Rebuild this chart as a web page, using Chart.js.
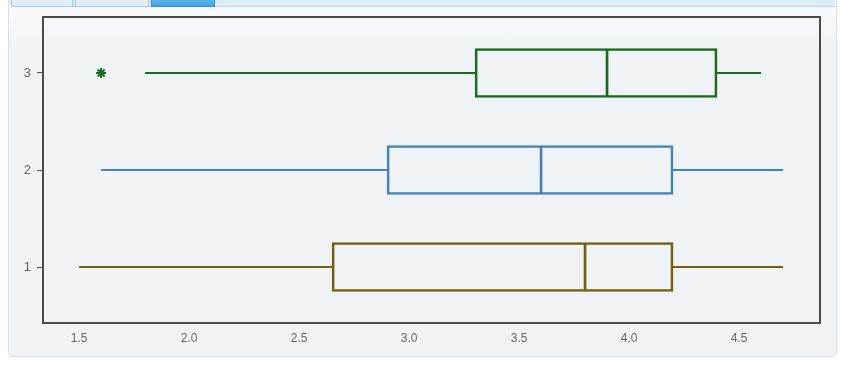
<!DOCTYPE html>
<html>
<head>
<meta charset="utf-8">
<title>Box plot</title>
<script src="https://cdn.jsdelivr.net/npm/chart.js@4.4.1/dist/chart.umd.min.js"></script>
<style>
    body {
        margin: 0;
        width: 850px;
        height: 370px;
        overflow: hidden;
        position: relative;
        background: #ffffff;
    }
    #panel {
        position: absolute;
        left: 8px;
        top: -10px;
        width: 827px;
        height: 365px;
        border: 1px solid #d9dee3;
        border-radius: 5px;
        background: linear-gradient(#f9fafb 0px, #f8f9fb 22px, #eff3f6 60px, #eff3f6 100%);
    }
    #tabstrip {
        position: absolute;
        left: 10px;
        top: 0;
        width: 825px;
        height: 6px;
        background: #dcebf8;
        border-bottom: 1px solid #b9d5ef;
        border-bottom-left-radius: 4px;
    }
    .tab {
        position: absolute;
        top: 0;
        height: 6px;
        background: #e3eef9;
        border: 1px solid #a9c9e9;
        border-top: none;
    }
    .tab.active {
        background: linear-gradient(#5cb1ec, #47a3e4);
        border-color: #2f8fe0;
    }
    #chartBox {
        position: absolute;
        left: 0;
        top: 0;
        width: 850px;
        height: 370px;
    }
</style>
</head>
<body>
<div id="panel"></div>
<div id="tabstrip"></div>
<div class="tab" style="left:11px; width:60px; border-bottom-left-radius:4px;"></div>
<div class="tab" style="left:75px; width:72px;"></div>
<div class="tab active" style="left:151px; width:62px;"></div>
<div id="chartBox"><canvas id="boxChart"></canvas></div>

<script>
// Box plot values
const categories = [1, 2, 3];
const whiskerLow = [1.5, 1.6, 1.8];
const lowerQuartile = [2.65, 2.9, 3.3];
const medians = [3.8, 3.6, 3.9];
const upperQuartile = [4.2, 4.2, 4.4];
const whiskerHigh = [4.7, 4.7, 4.6];
const outliers = [[], [], [1.6]];

const xTicks = [1.5, 2.0, 2.5, 3.0, 3.5, 4.0, 4.5];
const yTicks = [1, 2, 3];
const xRange = [1.336, 4.868];
const yRange = [0.423, 3.577];

const seriesColors = ['#745f10', '#4682b4', '#1b6a1b'];

// Frame round the plot area
const frameBorder = {
    id: 'frameBorder',
    afterDatasetsDraw: function(chart) {
        const a = chart.chartArea;
        const ctx = chart.ctx;
        ctx.save();
        ctx.strokeStyle = '#4a4a4a';
        ctx.lineWidth = 2;
        ctx.strokeRect(a.left, a.top, a.right - a.left, a.bottom - a.top);
        ctx.restore();
    }
};

document.addEventListener('DOMContentLoaded', function() {
    const datasets = [];

    // Lower and upper halves of each box as floating bars
    datasets.push({
        type: 'bar',
        data: categories.map(function(c, i) {
            return { x: [lowerQuartile[i], medians[i]], y: c };
        }),
        backgroundColor: 'rgba(0,0,0,0)',
        borderColor: seriesColors,
        borderWidth: { top: 2, right: 1, bottom: 2, left: 2 },
        borderSkipped: false,
        barThickness: 49,
        grouped: false
    });
    datasets.push({
        type: 'bar',
        data: categories.map(function(c, i) {
            return { x: [medians[i], upperQuartile[i]], y: c };
        }),
        backgroundColor: 'rgba(0,0,0,0)',
        borderColor: seriesColors,
        borderWidth: { top: 2, right: 2, bottom: 2, left: 1 },
        borderSkipped: false,
        barThickness: 49,
        grouped: false
    });

    // Whiskers, with a gap across the box
    categories.forEach(function(c, i) {
        datasets.push({
            type: 'line',
            data: [
                { x: whiskerLow[i], y: c },
                { x: lowerQuartile[i], y: c },
                { x: null, y: c },
                { x: upperQuartile[i], y: c },
                { x: whiskerHigh[i], y: c }
            ],
            borderColor: seriesColors[i],
            borderWidth: 2,
            pointRadius: 0,
            fill: false,
            spanGaps: false
        });
    });

    // Outliers
    categories.forEach(function(c, i) {
        if (outliers[i].length === 0) return;
        datasets.push({
            type: 'scatter',
            data: outliers[i].map(function(v) { return { x: v, y: c }; }),
            pointStyle: 'star',
            pointRadius: 5,
            borderColor: seriesColors[i],
            backgroundColor: seriesColors[i],
            borderWidth: 2
        });
    });

    new Chart(document.getElementById('boxChart'), {
        type: 'bar',
        data: { datasets: datasets },
        options: {
            indexAxis: 'y',
            responsive: true,
            maintainAspectRatio: false,
            animation: false,
            layout: {
                padding: { left: 0, top: 17, right: 30, bottom: 17 }
            },
            scales: {
                x: {
                    type: 'linear',
                    min: xRange[0],
                    max: xRange[1],
                    offset: false,
                    afterBuildTicks: function(scale) {
                        scale.ticks = xTicks.map(function(v) { return { value: v }; });
                    },
                    afterFit: function(scale) { scale.height = 30; },
                    grid: { display: false, drawTicks: false, offset: false },
                    border: { display: false },
                    ticks: {
                        padding: 8,
                        color: '#666666',
                        font: { family: "'Liberation Sans Narrow', sans-serif", size: 12 },
                        callback: function(v) { return v.toFixed(1); }
                    }
                },
                y: {
                    type: 'linear',
                    min: yRange[0],
                    max: yRange[1],
                    offset: false,
                    afterBuildTicks: function(scale) {
                        scale.ticks = yTicks.map(function(v) { return { value: v }; });
                    },
                    afterFit: function(scale) { scale.width = 43; },
                    grid: {
                        offset: false,
                        drawOnChartArea: false,
                        drawTicks: true,
                        tickLength: 6,
                        tickColor: '#555555'
                    },
                    border: { display: false },
                    ticks: {
                        padding: 6,
                        color: '#666666',
                        font: { family: "'Liberation Sans', sans-serif", size: 13 }
                    }
                }
            },
            plugins: {
                legend: { display: false },
                tooltip: { enabled: false }
            }
        },
        plugins: [frameBorder]
    });
});
</script>
</body>
</html>
